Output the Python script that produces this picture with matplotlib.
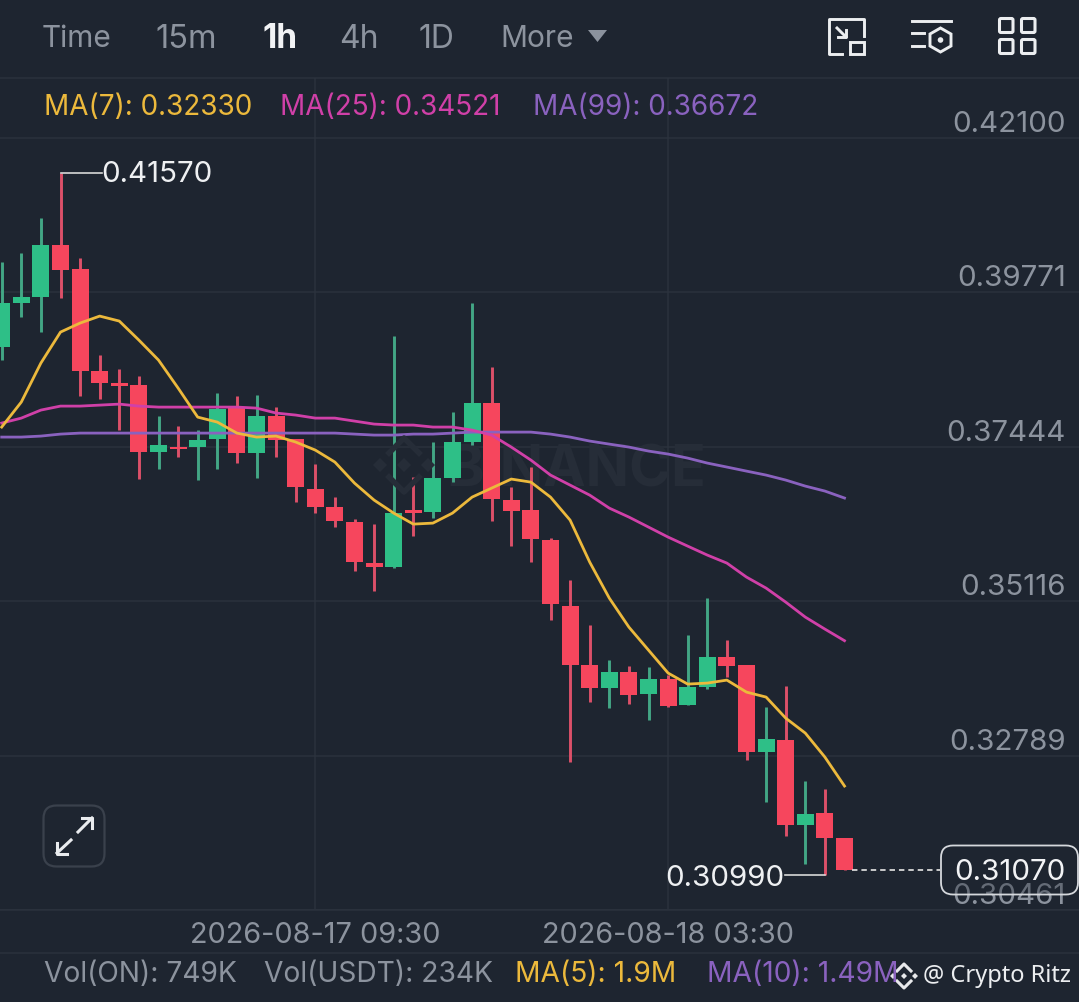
import matplotlib
matplotlib.use("Agg")
import matplotlib.pyplot as plt
from matplotlib.patches import FancyBboxPatch, Polygon, Rectangle, Circle

plt.rcParams['font.family'] = ['Inter', 'DejaVu Sans']

opens = [.38948,.39611,.39702,.40486,.40124,.38586,.38405,.38375,.37365,.37440,.37440,
         .37561,.38043,.37350,.37908,.37561,.36807,.36535,.36309,.35691,.35631,.36490,
         .36460,.36973,.37516,.38104,.36641,.36490,.36038,.35043,.34153,.33806,.34048,
         .33716,.33942,.33550,.33821,.34274,.34153,.32841,.33022,.31741,.31922,.31545]
closes = [.39611,.39702,.40486,.40109,.38586,.38405,.38360,.37365,.37470,.37410,.37546,
          .38013,.37350,.37908,.37546,.36837,.36535,.36324,.35706,.35631,.36445,.36445,
          .36973,.37516,.38104,.36656,.36475,.36053,.35073,.34153,.33806,.34048,.33701,
          .33942,.33535,.33821,.34274,.34138,.32841,.33037,.31741,.31907,.31545,.31070]
highs = [.40230,.40365,.40893,.41570,.40290,.38827,.38616,.38511,.37908,.37757,.37696,
         .38254,.38209,.38224,.38043,.37561,.37184,.36686,.36355,.36279,.39114,.36988,
         .37516,.37968,.39611,.38646,.36837,.37139,.36068,.35435,.34756,.34229,.34138,
         .34123,.34002,.34605,.35163,.34530,.34153,.33520,.33836,.32404,.32283,.31545]
lows = [.38752,.39400,.39174,.39687,.38209,.38164,.37696,.36958,.37108,.37289,.36943,
        .37108,.37199,.36973,.37289,.36611,.36445,.36234,.35570,.35269,.35616,.36098,
        .36370,.36912,.37470,.36324,.35947,.35706,.34832,.32691,.33595,.33505,.33565,
        .33324,.33520,.33550,.33791,.33972,.32721,.32087,.31575,.31153,.30990,.31070]
ma7 = [.37742,.38119,.38707,.39174,.39310,.39415,.39340,.39053,.38752,.38330,.37892,
       .37817,.37651,.37591,.37606,.37516,.37395,.37214,.36897,.36641,.36445,.36279,
       .36294,.36445,.36686,.36822,.36958,.36912,.36686,.36339,.35706,.35163,.34726,
       .34379,.34033,.33867,.33882,.33927,.33746,.33671,.33354,.33128,.32766,.32330]
ma25 = [.37802,.37877,.37998,.38058,.38058,.38073,.38088,.38058,.38043,.38043,.38043,
        .38043,.38043,.38028,.37953,.37923,.37877,.37877,.37832,.37787,.37772,.37772,
        .37742,.37742,.37696,.37621,.37440,.37244,.37018,.36867,.36716,.36520,.36385,
        .36234,.36083,.35947,.35812,.35691,.35480,.35314,.35103,.34877,.34696,.34521]
ma99 = [.37591,.37591,.37606,.37636,.37651,.37651,.37651,.37651,.37651,.37651,.37651,
        .37651,.37651,.37651,.37651,.37651,.37651,.37651,.37636,.37621,.37621,.37636,
        .37636,.37651,.37666,.37666,.37666,.37666,.37636,.37591,.37531,.37485,.37440,
        .37380,.37335,.37274,.37199,.37139,.37078,.37018,.36943,.36852,.36777,.36672]
price_ticks = [.42100,.39771,.37444,.35116,.32789,.30461]
time_ticks = [16, 34]
time_labels = ['2026-08-17 09:30', '2026-08-18 03:30']
intervals = ['Time', '15m', '1h', '4h', '1D', 'More']

BG = '#1e2530'
GRID = '#2b323d'
TXT = '#8c939e'
GREEN = '#2ebf87'
RED = '#f6465d'
GW = '#43a685'
RW = '#dc5069'
YEL = '#ecb93c'
MAG = '#d040a8'
PUR = '#8a62bf'
FS = 21.3

W, H = 1079, 1002
fig = plt.figure(figsize=(W/100, H/100), dpi=100, facecolor=BG)
ax = fig.add_axes([0, (H-910)/H, 1, (910-78)/H], facecolor=BG)
ax.set_xlim((0-1.7)/19.6, (W-1.7)/19.6)
ax.set_ylim(.30461, .42100 + 60*.00015078)

# axes furniture
ax.yaxis.tick_right()
ax.set_yticks(price_ticks, [f'{p:.5f}' for p in price_ticks])
ax.set_xticks(time_ticks, time_labels)
ax.tick_params(axis='y', length=0, pad=-9.4, labelsize=FS, labelcolor=TXT)
ax.tick_params(axis='x', length=0, pad=8.5, labelsize=20.8, labelcolor=TXT)
for t in ax.get_yticklabels():
    t.set_ha('right')
    t.set_va('bottom')
ax.grid(True, color=GRID, lw=1.1)
ax.set_axisbelow(True)
for s in ('left', 'right'):
    ax.spines[s].set_visible(False)
for s in ('top', 'bottom'):
    ax.spines[s].set_color(GRID)
    ax.spines[s].set_linewidth(1.1)

# watermark
ax.text(0.534, 0.5275, 'BINANCE', transform=ax.transAxes, ha='center', va='center',
        fontsize=41, fontweight='bold', color='#262d38', zorder=1.2)

# candles
for i, (o, h, l, c) in enumerate(zip(opens, highs, lows, closes)):
    up = c >= o
    ax.vlines(i, l, h, color=GW if up else RW, lw=2.1, zorder=2)
    ax.bar(i, abs(c-o), bottom=min(o, c), width=0.867,
           color=GREEN if up else RED, lw=0, zorder=2.2)

xs = list(range(len(ma7)))
ax.plot(xs, ma99, color=PUR, lw=2.0, zorder=3)
ax.plot(xs, ma25, color=MAG, lw=2.0, zorder=3.1)
ax.plot(xs, ma7, color=YEL, lw=2.0, zorder=3.2)

# high / low / last annotations
hi = highs.index(max(highs))
lo = lows.index(min(lows))
ax.plot([hi, hi+2.1], [highs[hi]]*2, color='#d8d8d8', lw=1.2, zorder=3)
ax.text(hi+2.1, highs[hi]-.0002, f'{highs[hi]:.5f}', color='#eef0f2', fontsize=FS,
        va='center', ha='left', zorder=4)
ax.plot([lo, lo-2.05], [lows[lo]]*2, color='#d8d8d8', lw=1.2, zorder=3)
ax.text(lo-2.05, lows[lo]-.0005, f'{lows[lo]:.5f}', color='#eef0f2', fontsize=FS,
        va='center', ha='right', zorder=4)
n = len(closes)-1
ax.plot([n+0.4, (940-1.7)/19.6], [closes[n]]*2, color='#d8d8d8', lw=1.3,
        ls=(0, (3, 2.2)), zorder=3)

# overlay in pixel space for the app chrome
ov = fig.add_axes([0, 0, 1, 1], facecolor='none')
ov.set_xlim(0, W)
ov.set_ylim(H, 0)
ov.axis('off')

ov.add_patch(FancyBboxPatch((941, 845.5), 137, 49, boxstyle='round,pad=0,rounding_size=12',
                            fc=BG, alpha=0.35, ec='none'))
ov.add_patch(FancyBboxPatch((941, 845.5), 137, 49, boxstyle='round,pad=0,rounding_size=12',
                            fc='none', ec='#d5d8dc', lw=1.3))
ov.text(1066, 872, f'{closes[-1]:.5f}', color='#f2f3f5', fontsize=FS, ha='right', va='center')

# bottom separator
ov.plot([0, W], [953, 953], color=GRID, lw=1.1)

# top tabs
tab_x = [42, 155, 262, 339, 419, 500]
tab_fs = [21.5, 23.5, 24, 23, 23, 21.5]
for lab, x, fs in zip(intervals, tab_x, tab_fs):
    active = lab == '1h'
    ov.text(x, 39, lab, fontsize=fs, color='#f2f3f5' if active else TXT,
            fontweight='bold' if active else 'normal', ha='left', va='center')
ov.add_patch(Polygon([[588, 30], [607, 30], [597.5, 42]], closed=True, fc=TXT, ec='none'))

# legend rows
for txt, x, col in [('MA(7): 0.32330', 44, YEL), ('MA(25): 0.34521', 280, MAG),
                    ('MA(99): 0.36672', 533, PUR)]:
    ov.text(x, 107, txt, fontsize=20.1, color=col, ha='left', va='center')
for txt, x, col in [('Vol(ON): 749K', 44, TXT), ('Vol(USDT): 234K', 264, TXT),
                    ('MA(5): 1.9M', 515, YEL), ('MA(10): 1.49M', 707, PUR)]:
    ov.text(x, 975, txt, fontsize=20.3, color=col, ha='left', va='center')
ov.text(923, 976, '@ Crypto Ritz', fontsize=17, color='#eceef0', ha='left', va='center',
        family=['Noto Sans', 'DejaVu Sans'])

# Binance mark
def diamond(cx, cy, r, **kw):
    ov.add_patch(Polygon([[cx-r, cy], [cx, cy-r], [cx+r, cy], [cx, cy+r]], closed=True, **kw))
for cx, cy, col in [(904, 976, '#e8e9eb')]:
    for dx, dy in [(-11, 0), (11, 0), (0, 0)]:
        diamond(cx+dx, cy+dy, 3, fc=col, ec='none')
    ov.plot([cx-7, cx, cx+7], [cy-5, cy-12, cy-5], color=col, lw=2.2)
    ov.plot([cx-7, cx, cx+7], [cy+5, cy+12, cy+5], color=col, lw=2.2)

# watermark logo
c2 = '#262d38'
for dx, dy in [(-24, 0), (24, 0), (0, 0)]:
    diamond(404+dx, 465+dy, 7, fc=c2, ec='none', zorder=0.5)
ov.plot([389, 404, 419], [453, 438, 453], color=c2, lw=4, zorder=0.5)
ov.plot([389, 404, 419], [477, 492, 477], color=c2, lw=4, zorder=0.5)

# expand button
ov.add_patch(FancyBboxPatch((43.5, 805.5), 61, 61, boxstyle='round,pad=0,rounding_size=13',
                            fc='none', ec='#3a414c', lw=1.6))
W2 = '#e9ebee'
ov.plot([78, 92], [832, 818], color=W2, lw=2.2)
ov.plot([82, 92, 92], [818, 818, 828], color=W2, lw=2.2)
ov.plot([71, 57], [840, 853], color=W2, lw=2.2)
ov.plot([57, 57, 67], [843, 854, 854], color=W2, lw=2.2)

# toolbar icons
I = '#eceef0'
ov.plot([842, 829, 829, 864, 864], [54, 54, 18.5, 18.5, 36], color=I, lw=2.1)
ov.add_patch(Rectangle((850, 42), 14, 12, fc='none', ec=I, lw=2.1))
ov.plot([837, 846], [28, 37], color=I, lw=2.1)
ov.plot([846, 846, 838], [30, 37, 37], color=I, lw=2.1)
ov.plot([912, 951], [20.5, 20.5], color=I, lw=2.1)
ov.plot([912, 924], [33, 33], color=I, lw=2.1)
ov.plot([912, 924], [46, 46], color=I, lw=2.1)
ov.add_patch(Polygon([[940.5, 28], [951, 34], [951, 46], [940.5, 52], [930, 46], [930, 34]],
                     closed=True, fc='none', ec=I, lw=2.1))
ov.add_patch(Circle((940.5, 40), 2.8, fc=I, ec='none'))
for x0 in (999.5, 1021.5):
    for y0 in (18.5, 39.5):
        ov.add_patch(FancyBboxPatch((x0, y0), 13.5, 14, boxstyle='round,pad=0,rounding_size=1.5',
                                    fc='none', ec=I, lw=2.2))

fig.savefig('out.png', dpi=100, facecolor=BG)
